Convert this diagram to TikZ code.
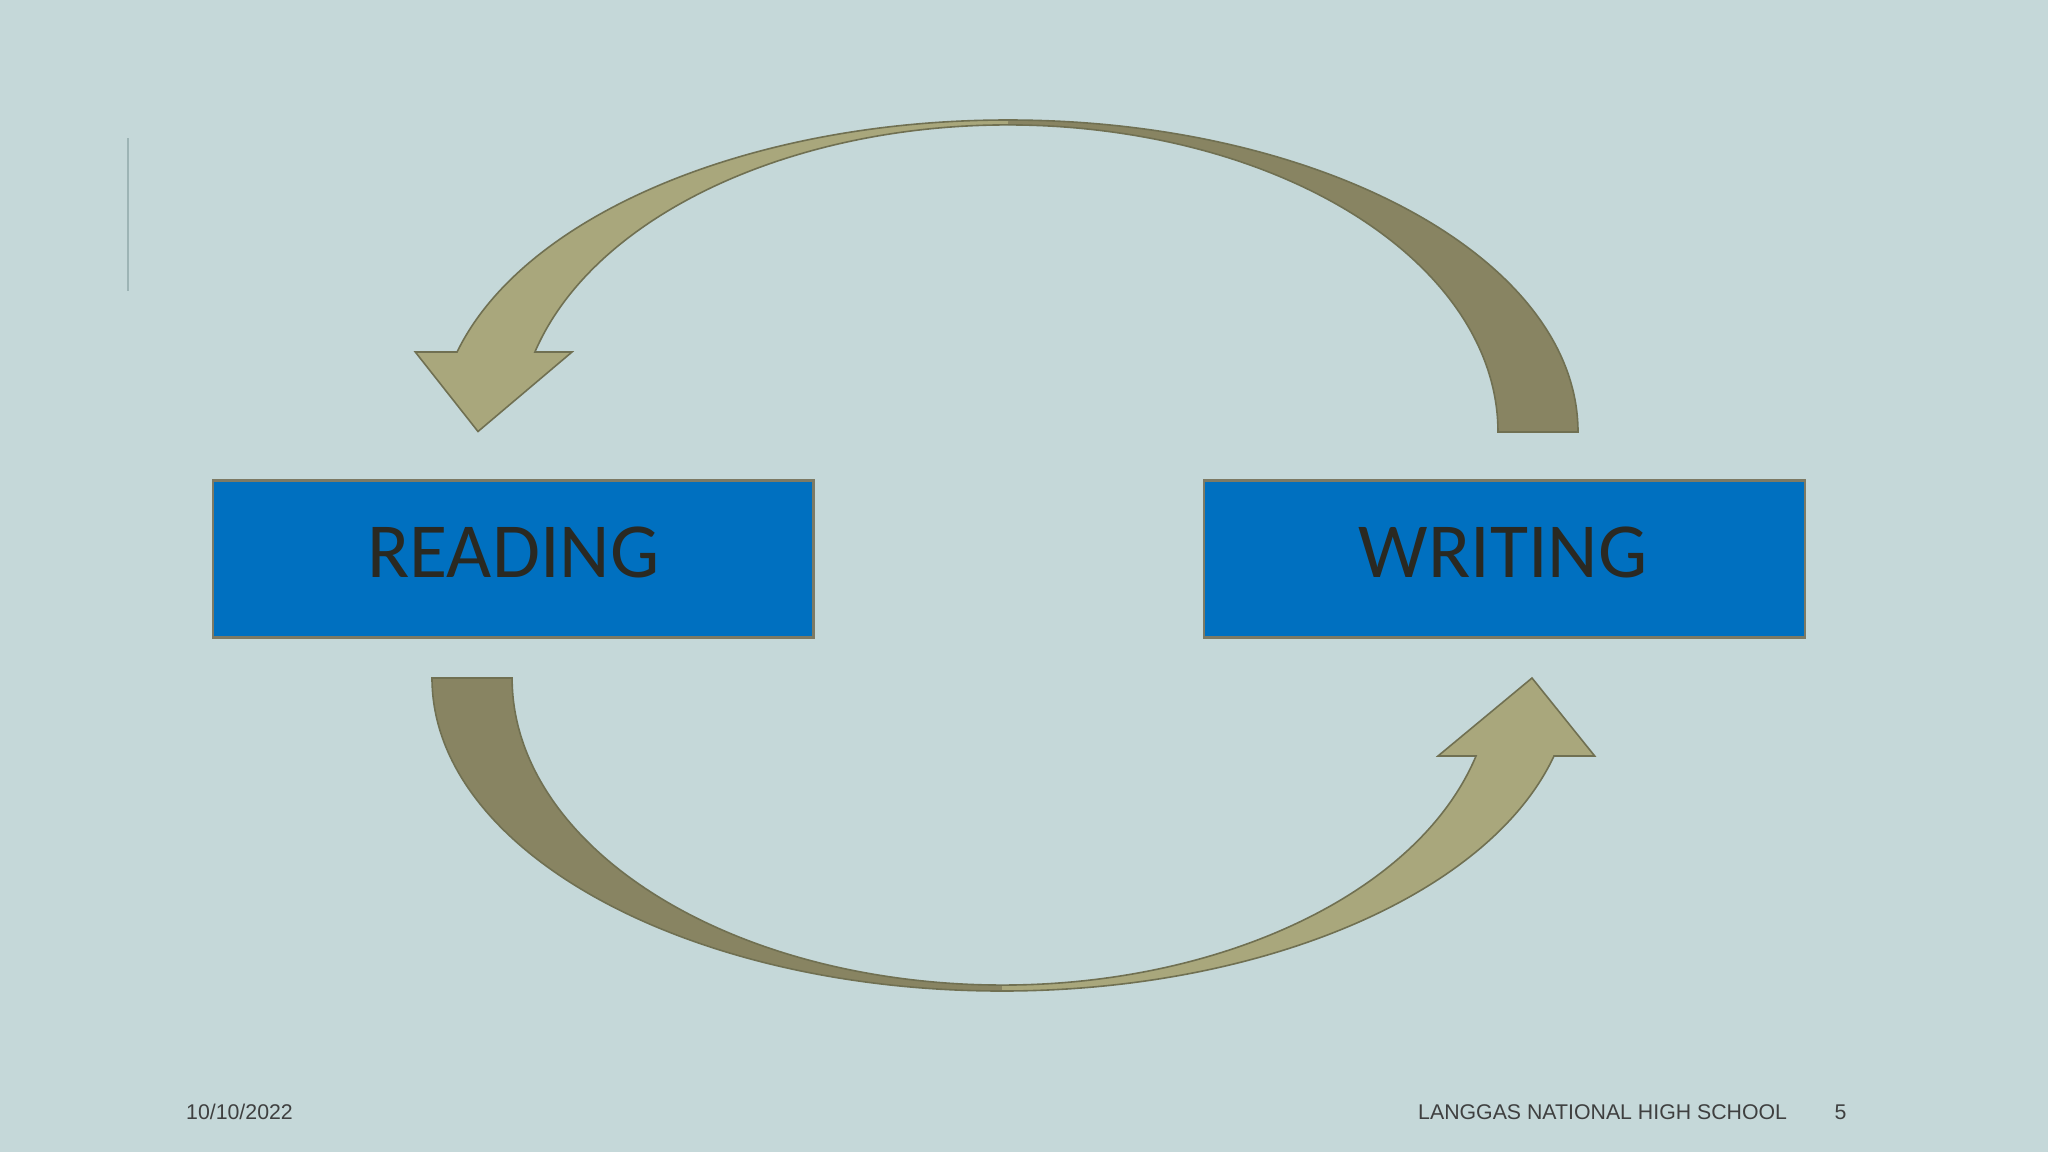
\documentclass[tikz,border=0pt]{standalone}
\usepackage{fontspec}
\newfontfamily\carlito{Carlito}
\newfontfamily\arialf{Liberation Sans}
\definecolor{bg}{HTML}{C5D8D9}
\definecolor{arrlight}{HTML}{A9A77C}
\definecolor{arrdark}{HTML}{888462}
\definecolor{arredge}{HTML}{707052}
\definecolor{boxblue}{HTML}{0070C0}
\definecolor{boxedge}{HTML}{7D7A64}
\definecolor{boxtext}{HTML}{2A2922}
\definecolor{foot}{HTML}{3F4040}
\definecolor{vline}{HTML}{9DB4B5}
\tikzset{
  wordbox/.style={draw=boxedge, line width=2.5pt, fill=boxblue, minimum width=600.8pt, minimum height=156.7pt, inner sep=0pt},
  wordtext/.style={anchor=base, text=boxtext, font=\carlito\fontsize{78}{80}\selectfont, inner sep=0pt},
  foottext/.style={anchor=base west, text=foot, font=\arialf\fontsize{21.3}{24}\selectfont, inner sep=0pt},
  lightpart/.style={fill=arrlight},
  darkpart/.style={fill=arrdark},
  arroutline/.style={draw=arredge, line width=1.6pt, line join=miter},
}
\begin{document}
\begin{tikzpicture}[x=1pt,y=-1pt]
\fill[bg] (0,0) rectangle (2048,1152);
\useasboundingbox (0,0) rectangle (2048,1152);

% vertical accent line
\draw[vline, line width=2.2pt] (128,138) -- (128,291);

% boxes
\node[wordbox] (reading) at (513.3,559) {};
\node[wordtext] (readingtxt) at (513.3,577.3) {READING};
\node[wordbox] (writing) at (1504.6,559) {};
\node[wordtext] (writingtxt) at (1503,577.3) {WRITING};

% top curved arrow (writing -> reading)
\fill[darkpart] (1008,120) arc[start angle=90,end angle=0,x radius=570pt,y radius=312pt]
  -- (1498,432) arc[start angle=0,end angle=90,x radius=490pt,y radius=307pt] -- cycle;
\fill[lightpart] (1008,120) arc[start angle=90,end angle=165.14,x radius=570pt,y radius=312pt]
  -- (415.3,352) -- (478,431.5) -- (572,352) -- (534.9,352)
  arc[start angle=164.9,end angle=90,x radius=490pt,y radius=307pt] -- cycle;
\draw[arroutline] (1578,432) arc[start angle=0,end angle=165.14,x radius=570pt,y radius=312pt]
  -- (415.3,352) -- (478,431.5) -- (572,352) -- (534.9,352)
  arc[start angle=164.9,end angle=0,x radius=490pt,y radius=307pt] -- cycle;

% bottom curved arrow (reading -> writing)
\fill[darkpart] (432,678) arc[start angle=180,end angle=270,x radius=570pt,y radius=313pt]
  -- (1002,985) arc[start angle=270,end angle=180,x radius=490pt,y radius=307pt] -- cycle;
\fill[lightpart] (1002,991) arc[start angle=270,end angle=345.57,x radius=570pt,y radius=313pt]
  -- (1594.7,756) -- (1532,678) -- (1438,756) -- (1476,756)
  arc[start angle=345.28,end angle=270,x radius=490pt,y radius=307pt] -- cycle;
\draw[arroutline] (432,678) arc[start angle=180,end angle=345.57,x radius=570pt,y radius=313pt]
  -- (1594.7,756) -- (1532,678) -- (1438,756) -- (1476,756)
  arc[start angle=345.28,end angle=180,x radius=490pt,y radius=307pt] -- cycle;

% footer
\node[foottext] (date) at (186,1119) {10/10/2022};
\node[foottext] (school) at (1418,1119) {LANGGAS NATIONAL HIGH SCHOOL};
\node[foottext] (page) at (1834.5,1119) {5};
\end{tikzpicture}
\end{document}
